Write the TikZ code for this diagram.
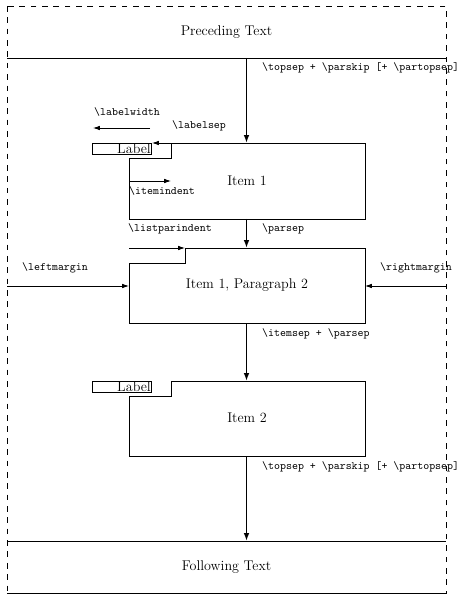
\documentclass[tikz,border=0pt]{standalone}
\usetikzlibrary{arrows.meta}
\begin{document}
\begin{tikzpicture}[x=0.88pt,y=-0.88pt,
  box/.style={line width=0.8pt},
  flow/.style={line width=1.3pt,-{Latex[length=7pt,width=5pt]}},
  dimarrow/.style={line width=0.7pt,-{Latex[length=6pt,width=4pt]}},
  tt/.style={font=\ttfamily\fontsize{10}{12}\selectfont, inner sep=0pt, anchor=west},
  rm/.style={font=\fontsize{12.4}{14}\selectfont, inner sep=0pt}]
\useasboundingbox (0,0) rectangle (474,602);
% outer frame
\draw[dash pattern=on 5pt off 5pt, line width=0.75pt] (7,6) rectangle (446,593);
\draw[box] (7,58) -- (446,58);
\draw[box] (7,541) -- (446,541);
\draw[box] (7,593) -- (446,593);
\node[rm] (prec) at (226.5,32) {Preceding Text};
\node[rm] (foll) at (226.5,567) {Following Text};
% coordinates
\coordinate (pb) at (246.5,58);
\coordinate (i1t) at (246.5,143);
\coordinate (i1b) at (246.5,219);
\coordinate (i2t) at (246.5,248);
\coordinate (i2b) at (246.5,323);
\coordinate (i3t) at (246.5,381);
\coordinate (i3b) at (246.5,456);
\coordinate (ft) at (246.5,541);
% item 1
\draw[box] (171,143) -- (365,143) -- (365,219) -- (129,219) -- (129,158) -- (171,158) -- cycle;
\draw[line width=0.8pt] (92,143) rectangle (151,154);
\node[rm, anchor=east] (lab1) at (151,148.5) {Label};
\node[rm] (item1) at (247,181) {Item 1};
% item 1 paragraph 2
\draw[box] (185,248) -- (365,248) -- (365,323) -- (129,323) -- (129,263) -- (185,263) -- cycle;
\node[rm] (item1p2) at (247,285) {Item 1, Paragraph 2};
% item 2
\draw[box] (171,381) -- (365,381) -- (365,456) -- (129,456) -- (129,396) -- (171,396) -- cycle;
\draw[line width=0.8pt] (92,381) rectangle (151,392);
\node[rm, anchor=east] (lab2) at (151,386.5) {Label};
\node[rm] (item2) at (247,418) {Item 2};
% main flow
\draw[flow] (pb) -- (i1t);
\draw[flow] (i1b) -- (i2t);
\draw[flow] (i2b) -- (i3t);
\draw[flow] (i3b) -- (ft);
% dimension arrows
\coordinate (lwa) at (150,128); \coordinate (lwb) at (93,128);
\coordinate (lsa) at (171,143); \coordinate (lsb) at (152,143);
\coordinate (iia) at (129,181); \coordinate (iib) at (171,181);
\coordinate (lpa) at (129,248); \coordinate (lpb) at (185,248);
\coordinate (lma) at (7,286);   \coordinate (lmb) at (129,286);
\coordinate (rma) at (446,286); \coordinate (rmb) at (365,286);
\draw[dimarrow] (lwa) -- (lwb);
\draw[dimarrow] (lsa) -- (lsb);
\draw[dimarrow] (iia) -- (iib);
\draw[dimarrow] (lpa) -- (lpb);
\draw[dimarrow] (lma) -- (lmb);
\draw[dimarrow] (rma) -- (rmb);
% labels
\node[tt] (t1) at (262,68) {\textbackslash topsep + \textbackslash parskip [+ \textbackslash partopsep]};
\node[tt] (t2) at (94,112) {\textbackslash labelwidth};
\node[tt] (t3) at (172,126) {\textbackslash labelsep};
\node[tt] (t4) at (129,191) {\textbackslash itemindent};
\node[tt] (t5) at (128,229) {\textbackslash listparindent};
\node[tt] (t6) at (262,229) {\textbackslash parsep};
\node[tt] (t7) at (22,268) {\textbackslash leftmargin};
\node[tt] (t8) at (380,268) {\textbackslash rightmargin};
\node[tt] (t9) at (262,334) {\textbackslash itemsep + \textbackslash parsep};
\node[tt] (t10) at (262,467) {\textbackslash topsep + \textbackslash parskip [+ \textbackslash partopsep]};
\end{tikzpicture}
\end{document}
